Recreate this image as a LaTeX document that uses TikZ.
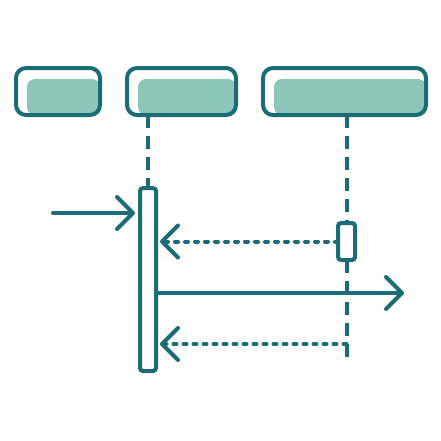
\documentclass[tikz,border=0pt]{standalone}
\usepackage{tikz}
\usetikzlibrary{arrows.meta}
\definecolor{seqline}{HTML}{1B6C74}
\definecolor{seqfill}{HTML}{8CC5BA}
\tikzstyle{actor}=[draw=seqline, line width=4pt, rounded corners=10pt, inner sep=0, outer sep=0,
                   minimum height=47pt,
                   % Shaded block offset towards the lower right.
                   path picture={\fill[seqfill, rounded corners=8pt]
                       ([shift={(11pt,-11pt)}]path picture bounding box.north west)
                       rectangle (path picture bounding box.south east);}]
\tikzstyle{activation}=[draw=seqline, line width=4pt, fill=white, rounded corners=3pt, inner sep=0, outer sep=0]
\tikzstyle{lifeline}=[draw=seqline, line width=4pt, dash pattern=on 13pt off 8pt]
\tikzstyle{call}=[draw=seqline, line width=4pt, line cap=round, -{Straight Barb[length=16pt, width=32pt, line width=4pt, round]}]
\tikzstyle{reply}=[call, dash pattern=on 3pt off 7pt]

\begin{document}
\begin{tikzpicture}[x=1pt, y=-1pt]
        \useasboundingbox[fill=white] (0, 0) rectangle (441, 440);
        \node[actor, minimum width=84pt] (A) at (58, 91.5) {};
        \node[actor, minimum width=109pt] (B) at (181.5, 91.5) {};
        \node[actor, minimum width=163pt] (C) at (344.5, 91.5) {};
        \node[activation, minimum width=16pt, minimum height=183pt] (Bact) at (148, 279.5) {};
        \node[activation, minimum width=17pt, minimum height=37pt] (Cact) at (346.5, 241.5) {};
        \coordinate (Cend) at (346.5, 363);
        \coordinate (in) at (53, 213);
        \coordinate (out) at (404, 293);
        \coordinate (ret) at (346.5, 344);
        % lifelines
        \draw[lifeline] (Bact.north |- B.south) -- (Bact.north);
        \draw[lifeline] (Cact.north |- C.south) -- (Cact.north);
        \draw[lifeline] (Cact.south) -- (Cend);
        % messages
        \draw[call, shorten >=5pt] (in) -- (Bact.west |- in);
        \draw[reply, shorten >=4pt] (Cact.west) -- (Bact.east |- Cact.west);
        \draw[call, line cap=butt] (Bact.east |- out) -- (out);
        \draw[reply, shorten >=4pt] (ret) -- (Bact.east |- ret);
    \end{tikzpicture}
\end{document}
